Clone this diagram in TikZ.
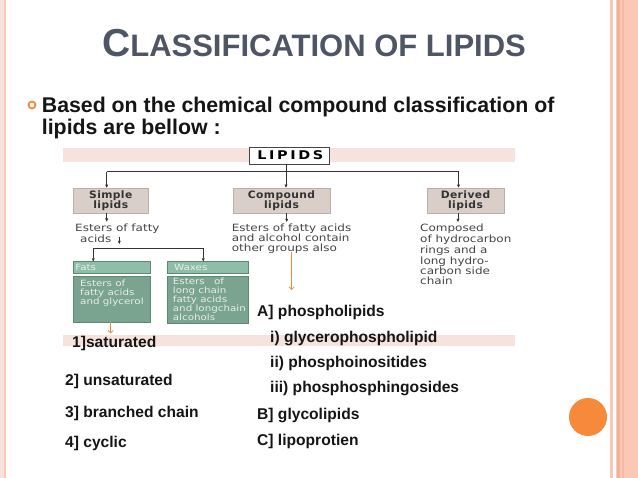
\documentclass[tikz,border=0pt]{standalone}
\usepackage{fontspec}
\setmainfont{Liberation Sans}
\newfontfamily\diagfont[FakeStretch=1.2]{DejaVu Sans}
\newfontfamily\catfam[FakeStretch=1.05,LetterSpace=4]{DejaVu Sans}
\newfontfamily\lipfam[FakeStretch=1.2,LetterSpace=22]{DejaVu Sans}
\usetikzlibrary{arrows.meta}
\definecolor{titlegray}{HTML}{4E5666}
\definecolor{bandpink}{HTML}{F7E3DD}
\definecolor{sidepink}{HTML}{FBC8B6}
\definecolor{sidedark}{HTML}{F2B29B}
\definecolor{orng}{HTML}{F6893A}
\definecolor{beige}{HTML}{D9CEC8}
\definecolor{beigeline}{HTML}{BBAFA9}
\definecolor{greenh}{HTML}{8EBDA8}
\definecolor{greenb}{HTML}{7AA390}
\definecolor{greenline}{HTML}{5E8875}
\definecolor{diagtext}{HTML}{454545}
\definecolor{boxtext}{HTML}{333333}
\definecolor{greentext}{HTML}{E8EFEA}
\definecolor{arrgray}{HTML}{333333}
\definecolor{maintext}{HTML}{151515}
\newcommand\dtextfont{\diagfont\fontsize{10}{9}\selectfont}
\newcommand\gtextfont{\diagfont\fontsize{8.6}{9}\selectfont}
\newcommand\catfont{\catfam\bfseries\fontsize{10.2}{10}\selectfont}
\newcommand\bottomfont{\bfseries\fontsize{15.6}{18}\selectfont}
\begin{document}
\begin{tikzpicture}[x=1pt,y=-1pt,
  arr/.style={draw=arrgray, line width=0.7pt, -{Triangle[length=3.2pt,width=2.8pt]}},
  lin/.style={draw=arrgray, line width=0.7pt},
  oarr/.style={draw=orng, line width=0.8pt, -{Straight Barb[length=2.5pt,width=5pt]}},
  catbox/.style={rectangle, fill=beige, draw=beigeline, line width=0.4pt, inner sep=0pt, align=center, text=boxtext, font=\catfont},
  greenhead/.style={rectangle, fill=greenh, draw=greenline, line width=0.4pt, inner xsep=2pt, inner ysep=0pt, align=left, text=greentext, font=\gtextfont},
  greenbody/.style={rectangle, fill=greenb, draw=greenline, line width=0.4pt, inner sep=0pt},
  dtxt/.style={anchor=north west, inner sep=0pt, align=left, text=diagtext, font=\dtextfont},
  gtxt/.style={anchor=north west, inner sep=0pt, align=left, text=greentext, font=\gtextfont},
  btxt/.style={anchor=base west, inner sep=0pt, text=maintext, font=\bottomfont},
]
\useasboundingbox (0,0) rectangle (638,478);
\fill[white] (0,0) rectangle (638,478);
% side borders
\fill[bandpink] (0,0) rectangle (4,478);
\fill[sidepink] (4,0) rectangle (6,478);
\fill[sidepink] (610,0) rectangle (612.5,478);
\fill[sidepink] (616,0) rectangle (638,478);
\fill[sidedark] (617,0) rectangle (619.5,478);
\fill[sidedark!60!sidepink] (622,0) rectangle (623.5,478);
\fill[orng] (588,417) circle (19pt);

% title
\node[anchor=base, inner sep=0pt, text=titlegray, font=\bfseries] (title) at (314,57)
  {{\fontsize{39}{39}\selectfont C}{\fontsize{31}{31}\selectfont LASSIFICATION OF LIPIDS}};

% bullet and intro
\draw[orng, line width=1.8pt] (32,105) circle (3.5pt);
\node[anchor=base west, inner sep=0pt, text=maintext, font=\bfseries\fontsize{21.3}{24}\selectfont] (intro1) at (41.7,113)
  {Based on the chemical compound classification of};
\node[anchor=base west, inner sep=0pt, text=maintext, font=\bfseries\fontsize{21.3}{24}\selectfont] (intro2) at (41.7,135)
  {lipids are bellow :};

% diagram bands
\fill[bandpink] (63,148.3) rectangle (515,161.7);
\fill[bandpink] (63,335) rectangle (515,345.7);

% LIPIDS box
\node[rectangle, fill=white, draw=diagtext, line width=0.8pt, minimum width=80pt, minimum height=17pt, inner sep=0pt,
  text=black, font=\lipfam\bfseries\fontsize{12}{12}\selectfont] (lipids) at (289,155.5) {\hspace*{2.5pt}LIPIDS};

% category boxes
\node[catbox, minimum width=75.5pt, minimum height=25.5pt] (simple) at (110.75,200.75) {Simple\\lipids};
\node[catbox, minimum width=97pt, minimum height=25.5pt] (compound) at (281.5,200.75) {Compound\\lipids};
\node[catbox, minimum width=77pt, minimum height=25.5pt] (derived) at (465.5,200.75) {Derived\\lipids};

% tree connectors
\coordinate (jc) at (286,171.7);
\coordinate (jl) at (106.7,171.7);
\coordinate (jr) at (458.5,171.7);
\draw[lin] (lipids.south -| jc) -- (jc);
\draw[lin] (jl) -- (jr);
\draw[arr] (jl) -- (jl |- simple.north);
\draw[arr] (jc) -- (jc |- compound.north);
\draw[arr] (jr) -- (jr |- derived.north);

% descriptions
\node[dtxt] (simpletxt) at (75,224.2) {Esters of fatty\\\hspace*{5pt}acids};
\node[dtxt, font=\diagfont\fontsize{10}{10}\selectfont] (compoundtxt) at (231.7,224.2) {Esters of fatty acids\\and alcohol contain\\other groups also};
\node[dtxt, font=\diagfont\fontsize{10}{9.4}\selectfont] (derivedtxt) at (420,224.2) {Composed\\of hydrocarbon\\rings and a\\long hydro-\\carbon side\\chain};

\coordinate (sa) at (106.7,213.5);
\coordinate (ca) at (286.7,213.5);
\coordinate (da) at (458,213.5);
\draw[arr] (sa) -- (106.7,221.7);
\draw[arr] (ca) -- (286.7,222);
\draw[arr] (da) -- (458,222);

% simple lipids split
\coordinate (s1) at (119.3,236.7);
\coordinate (s2) at (119.3,244);
\draw[arr] (s1) -- (s2);
\coordinate (hl) at (93.3,248.3);
\coordinate (hr) at (203.3,248.3);
\draw[lin] (hl) -- (hr);

% fats and waxes
\node[greenhead, text width=72.7pt, minimum height=11.6pt] (fats) at (111.65,267.5) {Fats};
\node[greenhead, text width=77.5pt, minimum height=11.6pt] (waxes) at (207.75,267.5) {\hspace*{5pt}Waxes};
\draw[arr] (hl) -- (hl |- fats.north);
\draw[arr] (hr) -- (hr |- waxes.north);
\node[greenbody, minimum width=76.7pt, minimum height=46pt] (fatsbody) at (111.65,299.5) {};
\node[greenbody, minimum width=81.5pt, minimum height=46.5pt] (waxesbody) at (207.75,299.75) {};
\node[gtxt] (fatstxt) at (80,279.6) {Esters of\\fatty acids\\and glycerol};
\node[gtxt] (waxestxt) at (172.7,277.6) {Esters\hspace{6pt} of\\long chain\\fatty acids\\and longchain\\alcohols};

% orange arrows
\coordinate (of1) at (110.7,322.5);
\coordinate (of2) at (110.7,333.5);
\draw[oarr] (of1) -- (of2);
\coordinate (oc1) at (291.7,251.7);
\coordinate (oc2) at (291.7,290);
\draw[oarr] (oc1) -- (oc2);

% lists
\node[btxt] (sat) at (72,348) {1]saturated};
\node[btxt] (unsat) at (65,386) {2] unsaturated};
\node[btxt] (branch) at (65,418) {3] branched chain};
\node[btxt] (cyclic) at (65,448) {4] cyclic};
\node[btxt] (phos) at (257,317) {A] phospholipids};
\node[btxt] (glyc) at (270,343) {i) glycerophospholipid};
\node[btxt] (inos) at (270,368) {ii) phosphoinositides};
\node[btxt] (sphing) at (270,393) {iii) phosphosphingosides};
\node[btxt] (glycol) at (257,420) {B] glycolipids};
\node[btxt] (lipo) at (257,446) {C] lipoprotien};
\end{tikzpicture}
\end{document}
